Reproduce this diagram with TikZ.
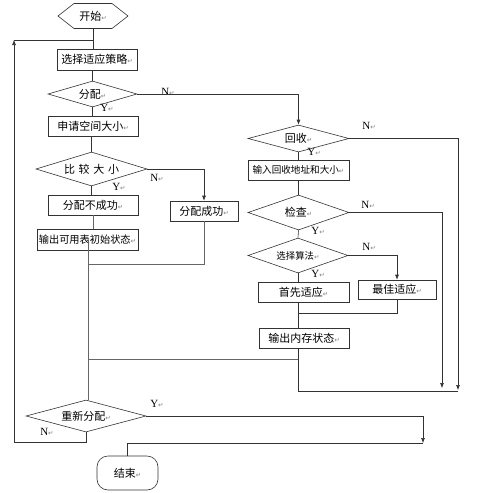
\documentclass[tikz,border=0pt]{standalone}
\usepackage{fontspec}
\usetikzlibrary{shapes.geometric, shapes.symbols, arrows.meta}
\setmainfont{Liberation Serif}
\newfontfamily\cjk{Noto Sans CJK SC}
\newfontfamily\symfont{DejaVu Sans}
\newcommand{\pmark}{{\symfont\fontsize{6.5}{7}\selectfont\color{gray}↵}}

\begin{document}
\begin{tikzpicture}[x=1pt, y=-1pt, line width=0.6pt, draw=black!80,
  >={Latex[length=5pt,width=4pt]},
  box/.style={draw, rectangle, inner sep=1pt, minimum height=20pt, font=\cjk\fontsize{11}{13}\selectfont},
  cond/.style={draw, diamond, aspect=3.5, inner sep=0pt, font=\cjk\fontsize{11}{13}\selectfont},
  lab/.style={inner sep=0pt, font=\fontsize{11}{11}\selectfont}]
\useasboundingbox (0,0) rectangle (479,493);

% left column
\node[draw, signal, signal to=west and east, signal pointer angle=76, minimum width=70pt, minimum height=25pt, inner sep=0pt, font=\cjk\fontsize{11}{13}\selectfont] (start) at (93,16) {开始\pmark};
\node[box, minimum width=80pt, minimum height=21pt] (choose) at (97,59.5) {选择适应策略\pmark};
\node[cond, minimum width=89pt, minimum height=26pt] (alloc) at (92.5,94) {分配\pmark};
\node[box, minimum width=90pt] (req) at (93,126.5) {申请空间大小\pmark};
\node[cond, minimum width=111pt, minimum height=34pt] (cmp) at (91.5,169) {比\,\,较\,\,大\,\,小};
\node[box, minimum width=90pt] (fail) at (93,205) {分配不成功\pmark};
\node[box, minimum width=101pt, minimum height=21pt, font=\cjk\fontsize{10.2}{12}\selectfont] (outinit) at (87.5,239.5) {输出可用表初始状态\pmark};
\node[box, minimum width=68pt] (ok) at (204,211) {分配成功\pmark};

% right column
\node[cond, minimum width=101pt, minimum height=27pt] (recl) at (298.5,138.5) {回收\pmark};
\node[box, minimum width=101pt, font=\cjk\fontsize{9.6}{12}\selectfont] (inaddr) at (298.5,170) {输入回收地址和大小\pmark};
\node[cond, minimum width=101pt, minimum height=35pt] (check) at (298.5,212.5) {检查\pmark};
\node[cond, minimum width=100pt, minimum height=35pt, font=\cjk\fontsize{9.4}{12}\selectfont] (algo) at (298,255.5) {选择算法\pmark};
\node[box, minimum width=91pt] (first) at (303.5,292) {首先适应\pmark};
\node[box, minimum width=78pt, minimum height=19pt] (best) at (397,289.5) {最佳适应\pmark};
\node[box, minimum width=90pt] (outmem) at (304,338) {输出内存状态\pmark};

% bottom
\node[cond, minimum width=120pt, minimum height=32pt] (again) at (86,416) {重新分配\pmark};
\node[draw, rectangle, rounded corners=11pt, minimum width=61pt, minimum height=34pt, font=\cjk\fontsize{11}{13}\selectfont] (end) at (127.5,473) {结束\pmark};

% junction points
\coordinate (loop) at (14,40);
\coordinate (top) at (93,40);
\coordinate (m1) at (88,264);
\coordinate (m2) at (298,313);
\coordinate (m3) at (88,359);
\coordinate (m4) at (298,359);
\coordinate (m5) at (298,391);
\coordinate (m6) at (458,391);
\coordinate (m7) at (423,443);
\coordinate (a1) at (458,390);
\coordinate (a2) at (442,388);

% labels
\node[lab] (n1) at (168,92) {N\pmark};
\node[lab] (y1) at (107,108) {Y\pmark};
\node[lab] (n2) at (157,178) {N\pmark};
\node[lab] (y2) at (119,187) {Y\pmark};
\node[lab] (n3) at (369,126) {N\pmark};
\node[lab] (y3) at (314,152) {Y\pmark};
\node[lab] (n4) at (368,205) {N\pmark};
\node[lab] (y4) at (318,231) {Y\pmark};
\node[lab] (n5) at (369,247) {N\pmark};
\node[lab] (y5) at (318,274) {Y\pmark};
\node[lab] (y6) at (157,404) {Y\pmark};
\node[lab] (n6) at (47,432) {N\pmark};

% connectors
\draw (start.south) -- (start.south |- choose.north);
\draw (top) -- (loop);
\draw (choose.south -| alloc.north) -- (alloc.north);
\draw[->] (alloc.east) -| (recl.north);
\draw (alloc.south) -- (alloc.south |- req.north);
\draw (req.south -| cmp.north) -- (cmp.north);
\draw[->] (cmp.east) -| (ok.north);
\draw (cmp.south) -- (cmp.south |- fail.north);
\draw[black!60] (fail.south -| 93,0) -- (outinit.north -| 93,0);
\draw[black!60] (m1 |- outinit.center) -- (m1 |- again.north);
\draw[black!60] (ok.south) |- (m1);
\draw[black!60] (m3) -- (m4);

\draw[->] (recl.east) -| (a1);
\draw (recl.south) -- (recl.south |- inaddr.north);
\draw (inaddr.south) -- (check.north);
\draw[->] (check.east) -| (a2);
\draw (check.south) -- (algo.north);
\draw[->] (algo.east) -| (best.north);
\draw (algo.south) -- (algo.south |- first.north);
\draw (m2 |- first.south) -- (m2 |- outmem.north);
\draw (best.south) |- (m2);
\draw (m2 |- outmem.south) -- (m5) -- (m6);

\draw[->] (again.east) -| (m7);
\draw (end.north) |- (m7);
\draw[->] (again.south) -- ++(0,10) -| (loop);
\end{tikzpicture}
\end{document}
